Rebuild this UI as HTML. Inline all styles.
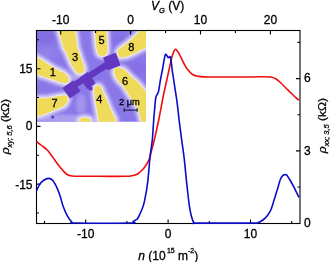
<!DOCTYPE html>
<html><head><meta charset="utf-8"><style>
html,body{margin:0;padding:0;background:#fff;}
svg{display:block;}
text{font-family:"Liberation Sans",Arial,sans-serif;fill:#000;stroke:#000;stroke-width:0.3px;}
</style></head><body>
<svg width="332" height="262" viewBox="0 0 332 262" xmlns="http://www.w3.org/2000/svg">
<rect width="332" height="262" fill="#fff"/>
<defs>
<clipPath id="ic"><rect x="36" y="30" width="110" height="91.8"/></clipPath>
<filter id="b1" x="-20%" y="-20%" width="140%" height="140%"><feGaussianBlur stdDeviation="0.6"/></filter>
<filter id="b3" x="-30%" y="-30%" width="160%" height="160%"><feGaussianBlur stdDeviation="1.8"/></filter>
<filter id="b5" x="-50%" y="-50%" width="200%" height="200%"><feGaussianBlur stdDeviation="4"/></filter>
<filter id="b2" x="-30%" y="-30%" width="160%" height="160%"><feGaussianBlur stdDeviation="0.75"/></filter>
</defs>
<g clip-path="url(#ic)">
<rect x="30" y="25" width="125" height="105" fill="#8a78e8"/>
<g filter="url(#b5)">
<ellipse cx="46" cy="38" rx="12" ry="8" fill="#7c60dc" opacity="0.55"/>
<ellipse cx="48" cy="52" rx="10" ry="4" fill="#a49cf2" opacity="0.5"/>
<ellipse cx="118" cy="40" rx="8" ry="8" fill="#7c62dc" opacity="0.4"/>
<ellipse cx="138" cy="70" rx="8" ry="10" fill="#7c62dc" opacity="0.4"/>
</g>
<g filter="url(#b3)" fill="#d2ccf6">
<ellipse cx="62" cy="118.5" rx="24" ry="4" opacity="0.45"/>
<ellipse cx="81" cy="104" rx="5" ry="10" opacity="0.35"/>
<ellipse cx="75" cy="78" rx="5" ry="4" opacity="0.4"/>
</g>
<g filter="url(#b3)" fill="#d2ccf6" stroke="#d2ccf6" stroke-width="7" stroke-linejoin="round">
<polygon points="30.0,54.0 36.0,56.8 44.8,62.0 53.6,67.7 64.0,72.9 67.0,75.5 69.0,78.5 68.5,82.0 66.0,83.5 62.3,82.8 53.6,80.1 46.5,77.5 37.3,74.7 30.0,72.5"/>
<polygon points="57.8,25.0 58.5,30.0 63.5,48.0 66.5,53.0 69.5,60.0 71.3,64.5 73.8,68.5 76.5,72.3 78.5,73.6 81.0,73.8 83.5,72.3 84.6,69.7 84.2,67.0 81.6,60.0 79.4,53.0 77.4,48.0 75.0,30.0 75.0,25.0"/>
<polygon points="94.5,25.0 94.7,30.0 96.0,45.0 97.2,51.0 98.0,54.0 100.0,55.5 103.0,56.0 106.0,55.0 107.4,51.0 106.4,30.0 106.3,25.0"/>
<polygon points="148.0,25.0 141.0,30.0 133.2,37.9 127.0,43.2 120.0,48.4 118.0,50.5 117.5,53.0 118.5,55.6 120.0,57.4 127.0,56.5 133.2,53.9 140.2,50.2 145.9,47.6 152.0,45.0"/>
<polygon points="114.8,69.0 117.0,67.3 120.0,68.0 124.4,69.7 128.8,74.0 130.5,76.0 137.6,82.1 143.7,89.2 152.0,97.0 152.0,126.0 142.0,126.0 141.5,122.0 140.0,115.0 138.0,109.0 135.8,105.5 133.0,101.5 130.4,97.5 128.1,93.6 125.4,89.8 123.5,86.0 119.5,82.5 116.0,78.0 114.0,73.0"/>
<polygon points="95.3,86.5 97.5,85.6 99.7,86.0 101.0,87.4 103.6,93.6 106.2,99.0 109.8,107.8 115.0,118.3 117.0,126.0 99.3,126.0 97.3,112.0 95.0,99.0 94.0,89.0"/>
<polygon points="30.0,98.5 36.0,98.5 49.2,98.0 58.0,96.2 64.0,95.3 66.5,95.5 68.0,97.5 67.5,101.0 66.0,104.0 64.0,106.0 53.6,110.4 44.8,113.9 36.9,116.6 30.0,119.0"/>
<polygon points="78.3,126.0 79.5,119.3 82.0,118.1 85.0,117.8 88.0,118.1 90.3,119.3 91.3,126.0"/>
</g>
<g filter="url(#b1)" fill="#ece6f2" stroke="#ece6f2" stroke-width="2.2" stroke-linejoin="round">
<polygon points="30.0,54.0 36.0,56.8 44.8,62.0 53.6,67.7 64.0,72.9 67.0,75.5 69.0,78.5 68.5,82.0 66.0,83.5 62.3,82.8 53.6,80.1 46.5,77.5 37.3,74.7 30.0,72.5"/>
<polygon points="57.8,25.0 58.5,30.0 63.5,48.0 66.5,53.0 69.5,60.0 71.3,64.5 73.8,68.5 76.5,72.3 78.5,73.6 81.0,73.8 83.5,72.3 84.6,69.7 84.2,67.0 81.6,60.0 79.4,53.0 77.4,48.0 75.0,30.0 75.0,25.0"/>
<polygon points="94.5,25.0 94.7,30.0 96.0,45.0 97.2,51.0 98.0,54.0 100.0,55.5 103.0,56.0 106.0,55.0 107.4,51.0 106.4,30.0 106.3,25.0"/>
<polygon points="148.0,25.0 141.0,30.0 133.2,37.9 127.0,43.2 120.0,48.4 118.0,50.5 117.5,53.0 118.5,55.6 120.0,57.4 127.0,56.5 133.2,53.9 140.2,50.2 145.9,47.6 152.0,45.0"/>
<polygon points="114.8,69.0 117.0,67.3 120.0,68.0 124.4,69.7 128.8,74.0 130.5,76.0 137.6,82.1 143.7,89.2 152.0,97.0 152.0,126.0 142.0,126.0 141.5,122.0 140.0,115.0 138.0,109.0 135.8,105.5 133.0,101.5 130.4,97.5 128.1,93.6 125.4,89.8 123.5,86.0 119.5,82.5 116.0,78.0 114.0,73.0"/>
<polygon points="95.3,86.5 97.5,85.6 99.7,86.0 101.0,87.4 103.6,93.6 106.2,99.0 109.8,107.8 115.0,118.3 117.0,126.0 99.3,126.0 97.3,112.0 95.0,99.0 94.0,89.0"/>
<polygon points="30.0,98.5 36.0,98.5 49.2,98.0 58.0,96.2 64.0,95.3 66.5,95.5 68.0,97.5 67.5,101.0 66.0,104.0 64.0,106.0 53.6,110.4 44.8,113.9 36.9,116.6 30.0,119.0"/>
<polygon points="78.3,126.0 79.5,119.3 82.0,118.1 85.0,117.8 88.0,118.1 90.3,119.3 91.3,126.0"/>
</g>
<g filter="url(#b1)" fill="#f0da5a">
<polygon points="30.0,54.0 36.0,56.8 44.8,62.0 53.6,67.7 64.0,72.9 67.0,75.5 69.0,78.5 68.5,82.0 66.0,83.5 62.3,82.8 53.6,80.1 46.5,77.5 37.3,74.7 30.0,72.5"/>
<polygon points="57.8,25.0 58.5,30.0 63.5,48.0 66.5,53.0 69.5,60.0 71.3,64.5 73.8,68.5 76.5,72.3 78.5,73.6 81.0,73.8 83.5,72.3 84.6,69.7 84.2,67.0 81.6,60.0 79.4,53.0 77.4,48.0 75.0,30.0 75.0,25.0"/>
<polygon points="94.5,25.0 94.7,30.0 96.0,45.0 97.2,51.0 98.0,54.0 100.0,55.5 103.0,56.0 106.0,55.0 107.4,51.0 106.4,30.0 106.3,25.0"/>
<polygon points="148.0,25.0 141.0,30.0 133.2,37.9 127.0,43.2 120.0,48.4 118.0,50.5 117.5,53.0 118.5,55.6 120.0,57.4 127.0,56.5 133.2,53.9 140.2,50.2 145.9,47.6 152.0,45.0"/>
<polygon points="114.8,69.0 117.0,67.3 120.0,68.0 124.4,69.7 128.8,74.0 130.5,76.0 137.6,82.1 143.7,89.2 152.0,97.0 152.0,126.0 142.0,126.0 141.5,122.0 140.0,115.0 138.0,109.0 135.8,105.5 133.0,101.5 130.4,97.5 128.1,93.6 125.4,89.8 123.5,86.0 119.5,82.5 116.0,78.0 114.0,73.0"/>
<polygon points="95.3,86.5 97.5,85.6 99.7,86.0 101.0,87.4 103.6,93.6 106.2,99.0 109.8,107.8 115.0,118.3 117.0,126.0 99.3,126.0 97.3,112.0 95.0,99.0 94.0,89.0"/>
<polygon points="30.0,98.5 36.0,98.5 49.2,98.0 58.0,96.2 64.0,95.3 66.5,95.5 68.0,97.5 67.5,101.0 66.0,104.0 64.0,106.0 53.6,110.4 44.8,113.9 36.9,116.6 30.0,119.0"/>
<polygon points="78.3,126.0 79.5,119.3 82.0,118.1 85.0,117.8 88.0,118.1 90.3,119.3 91.3,126.0"/>
</g>
<g filter="url(#b2)" fill="#6238c0">
<path d="M68,88.5 L87,77.5 L112,61.5" stroke="#6238c0" stroke-width="6.3" fill="none"/>
<rect x="-6.5" y="-6.5" width="13" height="13" transform="translate(71.5,89.5) rotate(-35)"/>
<rect x="-5" y="-7" width="10" height="14" transform="translate(87.5,80.5) rotate(-35)"/>
<rect x="-6.8" y="-6.8" width="13.6" height="13.6" transform="translate(111.8,61.5) rotate(-20)"/>
<circle cx="90.5" cy="88.5" r="2.2"/>
<circle cx="52.7" cy="117" r="1.6"/>
</g>

</g>
<g font-size="11" fill="#111" text-anchor="middle" style="font-family:'Liberation Sans',Arial,sans-serif;stroke:#111;stroke-width:0.2px">
<text x="52.7" y="75.9">1</text>
<text x="75" y="60.8">3</text>
<text x="101.6" y="43.8">5</text>
<text x="131.3" y="51.1">8</text>
<text x="125.1" y="84.6">6</text>
<text x="99.2" y="102.8">4</text>
<text x="54.6" y="107.3">7</text>
</g>
<text x="118.9" y="105.3" font-size="9.3" fill="#141438" style="font-family:'Liberation Sans',Arial,sans-serif">2 μm</text>
<rect x="123.8" y="109.6" width="13.6" height="1.1" fill="#1c1c40"/>
<rect x="123.6" y="108.2" width="1.2" height="3.6" fill="#1c1c40"/>
<rect x="136.5" y="108.2" width="1.2" height="3.6" fill="#1c1c40"/>

<rect x="36.5" y="30.5" width="263.5" height="193.0" fill="none" stroke="#000" stroke-width="1.1"/>
<path d="M44.5,223.5v-2.5 M85.7,223.5v-4 M126.9,223.5v-2.5 M168.1,223.5v-4 M209.3,223.5v-2.5 M250.5,223.5v-4 M291.7,223.5v-2.5 M60.7,30.5v4 M95.6,30.5v2.5 M130.6,30.5v4 M165.6,30.5v2.5 M200.5,30.5v4 M235.4,30.5v2.5 M270.4,30.5v4 M36.5,213.0h2.5 M36.5,184.1h4 M36.5,155.3h2.5 M36.5,126.4h4 M36.5,97.5h2.5 M36.5,68.7h4 M36.5,39.8h2.5 M300,187.0h-2.5 M300,150.9h-4 M300,114.7h-2.5 M300,78.6h-4 M300,42.4h-2.5" stroke="#000" stroke-width="1.1" fill="none"/>
<path d="M36.50,141.50 C37.37,142.17 39.87,144.03 41.70,145.50 C43.53,146.97 45.58,148.23 47.50,150.30 C49.42,152.37 51.45,155.52 53.20,157.90 C54.95,160.28 56.42,162.53 58.00,164.60 C59.58,166.67 61.12,168.62 62.70,170.30 C64.28,171.98 65.90,173.75 67.50,174.70 C69.10,175.65 70.22,175.73 72.30,176.00 C74.38,176.27 75.38,176.25 80.00,176.30 C84.62,176.35 92.50,176.30 100.00,176.30 C107.50,176.30 119.48,176.43 125.00,176.30 C130.52,176.17 131.08,175.85 133.10,175.50 C135.12,175.15 136.02,174.72 137.10,174.20 C138.18,173.68 138.38,173.52 139.60,172.40 C140.82,171.28 142.80,169.67 144.40,167.50 C146.00,165.33 148.05,162.10 149.20,159.40 C150.35,156.70 150.45,154.53 151.30,151.30 C152.15,148.07 153.07,145.22 154.30,140.00 C155.53,134.78 157.18,127.42 158.70,120.00 C160.22,112.58 162.05,102.17 163.40,95.50 C164.75,88.83 165.87,84.25 166.80,80.00 C167.73,75.75 168.10,74.00 169.00,70.00 C169.90,66.00 171.13,59.47 172.20,56.00 C173.27,52.53 174.27,49.58 175.40,49.20 C176.53,48.82 177.53,51.23 179.00,53.70 C180.47,56.17 182.83,61.45 184.20,64.00 C185.57,66.55 185.80,67.25 187.20,69.00 C188.60,70.75 190.80,73.28 192.60,74.50 C194.40,75.72 195.10,75.88 198.00,76.30 C200.90,76.72 201.33,76.88 210.00,77.00 C218.67,77.12 241.62,77.05 250.00,77.00 C258.38,76.95 256.87,76.70 260.30,76.70 C263.73,76.70 268.02,76.67 270.60,77.00 C273.18,77.33 274.08,77.70 275.80,78.70 C277.52,79.70 279.18,81.42 280.90,83.00 C282.62,84.58 284.38,86.48 286.10,88.20 C287.82,89.92 289.48,91.63 291.20,93.30 C292.92,94.97 295.10,97.05 296.40,98.20 C297.70,99.35 298.57,99.87 299.00,100.20" fill="none" stroke="#ee0c0c" stroke-width="1.6" stroke-linejoin="round"/>
<path d="M36.50,191.00 C36.95,190.02 38.05,186.85 39.20,185.10 C40.35,183.35 41.83,181.62 43.40,180.50 C44.97,179.38 47.03,178.40 48.60,178.40 C50.17,178.40 51.40,178.92 52.80,180.50 C54.20,182.08 55.77,185.27 57.00,187.90 C58.23,190.53 59.15,193.15 60.20,196.30 C61.25,199.45 62.08,203.48 63.30,206.80 C64.52,210.12 66.10,213.70 67.50,216.20 C68.90,218.70 70.28,220.67 71.70,221.80 C73.12,222.93 66.28,222.80 76.00,223.00 C85.72,223.20 120.48,223.25 130.00,223.00 C139.52,222.75 131.92,222.13 133.10,221.50 C134.28,220.87 136.28,219.82 137.10,219.20 C137.92,218.58 137.32,219.12 138.00,217.80 C138.68,216.48 140.13,214.00 141.20,211.30 C142.27,208.60 143.32,206.47 144.40,201.60 C145.48,196.73 146.75,189.67 147.70,182.10 C148.65,174.53 149.33,163.22 150.10,156.20 C150.87,149.18 151.70,146.03 152.30,140.00 C152.90,133.97 153.33,124.88 153.70,120.00 C154.07,115.12 154.23,113.80 154.50,110.70 C154.77,107.60 155.03,103.77 155.30,101.40 C155.57,99.03 155.57,98.15 156.10,96.50 C156.63,94.85 157.78,94.25 158.50,91.50 C159.22,88.75 159.75,83.58 160.40,80.00 C161.05,76.42 161.58,74.18 162.40,70.00 C163.22,65.82 164.33,56.95 165.30,54.90 C166.27,52.85 167.33,57.32 168.20,57.70 C169.07,58.08 169.83,55.15 170.50,57.20 C171.17,59.25 171.57,65.53 172.20,70.00 C172.83,74.47 173.50,78.73 174.30,84.00 C175.10,89.27 176.20,95.60 177.00,101.60 C177.80,107.60 178.32,113.60 179.10,120.00 C179.88,126.40 180.83,133.43 181.70,140.00 C182.57,146.57 183.48,152.38 184.30,159.40 C185.12,166.42 185.78,174.53 186.60,182.10 C187.42,189.67 188.40,199.12 189.20,204.80 C190.00,210.48 190.60,213.20 191.40,216.20 C192.20,219.20 193.07,221.65 194.00,222.80 C194.93,223.95 189.33,223.05 197.00,223.10 C204.67,223.15 230.17,223.12 240.00,223.10 C249.83,223.08 252.95,223.10 256.00,223.00 C259.05,222.90 257.15,223.00 258.30,222.50 C259.45,222.00 261.37,221.18 262.90,220.00 C264.43,218.82 266.17,217.12 267.50,215.40 C268.83,213.68 269.77,212.38 270.90,209.70 C272.03,207.02 273.15,202.93 274.30,199.30 C275.45,195.67 276.65,191.52 277.80,187.90 C278.95,184.28 279.87,179.82 281.20,177.60 C282.53,175.38 284.47,174.42 285.80,174.60 C287.13,174.78 287.87,176.67 289.20,178.70 C290.53,180.73 292.17,183.67 293.80,186.80 C295.43,189.93 298.13,195.72 299.00,197.50" fill="none" stroke="#0c0cc8" stroke-width="1.6" stroke-linejoin="round"/>
<g font-size="12" text-anchor="middle">
<text x="60.7" y="23.5">-10</text>
<text x="130.6" y="23.5">0</text>
<text x="200.5" y="23.5">10</text>
<text x="270.4" y="23.5">20</text>
<text x="85.7" y="237.5">-10</text>
<text x="168.1" y="237.5">0</text>
<text x="250.5" y="237.5">10</text>
</g>
<g font-size="12" text-anchor="end">
<text x="32.5" y="72.6">15</text>
<text x="32.5" y="130.4">0</text>
<text x="32.5" y="188.6">-15</text>
</g>
<g font-size="12" text-anchor="start">
<text x="304" y="82.1">6</text>
<text x="304" y="155">3</text>
<text x="304" y="227">0</text>
</g>
<text x="151" y="9.5" font-size="12"><tspan font-style="italic">V</tspan><tspan font-size="7.5" dy="3" font-style="italic">G</tspan><tspan dy="-3"> (V)</tspan></text>
<text x="138.3" y="259.5" font-size="12"><tspan font-style="italic">n</tspan> (10<tspan font-size="7" dy="-7" dx="1.2">15</tspan><tspan dy="7"> m</tspan><tspan font-size="7" dy="-7">-2</tspan><tspan dy="7">)</tspan></text>
<text transform="translate(9.4,154.3) rotate(-90) scale(1,0.85)" font-size="12"><tspan font-style="italic">ρ</tspan><tspan font-size="7.5" dy="3" font-style="italic">xy; 5,6</tspan><tspan dy="-3"> (kΩ)</tspan></text>
<text transform="translate(326.2,153.2) rotate(-90) scale(1,0.85)" font-size="12"><tspan font-style="italic">ρ</tspan><tspan font-size="7.5" dy="3" font-style="italic">xx; 3,5</tspan><tspan dy="-3"> (kΩ)</tspan></text>
</svg>
</body></html>
